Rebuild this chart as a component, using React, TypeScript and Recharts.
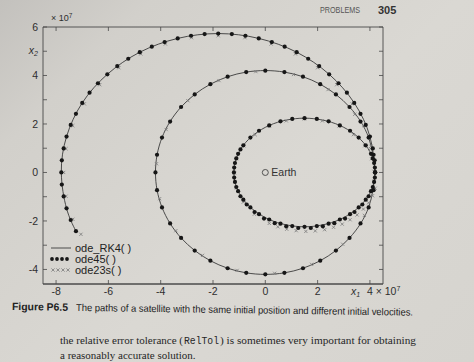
import React from "react";
import { ComposedChart, Line, Scatter, XAxis, YAxis, ReferenceArea } from "recharts";

type Pt = [number, number];

// satellite paths, x1 / x2 in units of 1e7 m
// ode_RK4(): solid lines
const rk4Inner: Pt[] = [
  [4.2, 0], [4.11, 0.58], [3.84, 1.12], [3.41, 1.58], [2.85, 1.94], [2.2, 2.16], [1.5, 2.24],
  [0.8, 2.16], [0.15, 1.94], [-0.41, 1.58], [-0.84, 1.12], [-1.11, 0.58], [-1.2, 0],
  [-1.11, -0.58], [-0.84, -1.12], [-0.41, -1.58], [0.15, -1.94], [0.8, -2.16], [1.5, -2.24],
  [2.2, -2.16], [2.85, -1.94], [3.41, -1.58], [3.84, -1.12], [4.11, -0.58], [4.2, 0],
];
const rk4Middle: Pt[] = [
  [4.2, 0], [3.95, 1.44], [3.22, 2.7], [2.1, 3.64], [0.73, 4.14], [-0.73, 4.14], [-2.1, 3.64],
  [-3.22, 2.7], [-3.95, 1.44], [-4.2, 0], [-3.95, -1.44], [-3.22, -2.7], [-2.1, -3.64],
  [-0.73, -4.14], [0.73, -4.14], [2.1, -3.64], [3.22, -2.7], [3.95, -1.44], [4.2, 0],
];
const rk4Outer: Pt[] = [
  [4.2, 0], [4.0, 1.48], [3.4, 2.87], [2.44, 4.05], [1.2, 4.96], [-0.25, 5.53], [-1.8, 5.73],
  [-3.35, 5.53], [-4.8, 4.96], [-6.04, 4.05], [-7.0, 2.87], [-7.6, 1.48], [-7.8, 0],
  [-7.6, -1.48], [-7.24, -2.42],
];

// ode45(): black dots
const ode45Inner: Pt[] = [
  [4.2, 0], [4.16, 0.39], [4.04, 0.77], [3.84, 1.12], [3.57, 1.44], [3.24, 1.72], [2.85, 1.94],
  [2.42, 2.11], [1.97, 2.21], [1.5, 2.24], [1.03, 2.21], [0.58, 2.11], [0.15, 1.94], [-0.24, 1.72],
  [-0.57, 1.44], [-0.84, 1.12], [-1.04, 0.77], [-1.16, 0.39], [-1.2, 0], [-1.16, -0.39],
  [-1.04, -0.77], [-0.84, -1.12], [-0.57, -1.44], [-0.24, -1.72], [0.15, -1.94], [0.58, -2.11],
  [1.03, -2.21], [1.5, -2.24], [1.97, -2.21], [2.42, -2.11], [2.85, -1.94], [3.24, -1.72],
  [3.57, -1.44], [3.84, -1.12], [4.04, -0.77], [4.16, -0.39],
  [-0.95, 0.95], [-1.11, 0.58], [-1.19, 0.2], [-1.19, -0.21], [-1.11, -0.6],
  [-0.95, -0.98], [-0.71, -1.32], [-0.41, -1.63], [-0.05, -1.9], [0.36, -2.09], [0.8, -2.22],
  [1.26, -2.29], [1.74, -2.29], [2.2, -2.22], [2.64, -2.09], [3.05, -1.9], [3.41, -1.63],
  [3.71, -1.32], [3.95, -0.98], [4.11, -0.6], [4.19, -0.21], [4.19, 0.2], [4.11, 0.58],
];
const ode45Middle: Pt[] = [
  [4.2, 0], [4.14, 0.73], [3.95, 1.44], [3.64, 2.1], [3.22, 2.7], [2.7, 3.22], [2.1, 3.64],
  [1.44, 3.95], [0.73, 4.14], [0, 4.2], [-0.73, 4.14], [-1.44, 3.95], [-2.1, 3.64], [-2.7, 3.22],
  [-3.22, 2.7], [-3.64, 2.1], [-3.95, 1.44], [-4.14, 0.73], [-4.2, 0], [-4.14, -0.73],
  [-3.95, -1.44], [-3.64, -2.1], [-3.22, -2.7], [-2.7, -3.22], [-2.1, -3.64], [-1.44, -3.95],
  [-0.73, -4.14], [0, -4.2], [0.73, -4.14], [1.44, -3.95], [2.1, -3.64], [2.7, -3.22],
  [3.22, -2.7], [3.64, -2.1], [3.95, -1.44], [4.14, -0.73],
];
const ode45Outer: Pt[] = [
  [4.2, 0], [4.18, 0.5], [4.11, 0.99], [4.0, 1.48], [3.84, 1.96], [3.64, 2.42], [3.4, 2.87],
  [3.12, 3.29], [2.8, 3.68], [2.44, 4.05], [2.06, 4.39], [1.64, 4.69], [1.2, 4.96], [0.74, 5.19],
  [0.25, 5.38], [-0.25, 5.53], [-0.76, 5.64], [-1.28, 5.71], [-1.8, 5.73], [-2.32, 5.71],
  [-2.84, 5.64], [-3.35, 5.53], [-3.85, 5.38], [-4.34, 5.19], [-4.8, 4.96], [-5.24, 4.69],
  [-5.66, 4.39], [-6.04, 4.05], [-6.4, 3.68], [-6.72, 3.29], [-7.0, 2.87], [-7.24, 2.42],
  [-7.44, 1.96], [-7.6, 1.48], [-7.71, 0.99], [-7.78, 0.5], [-7.8, 0], [-7.78, -0.5],
  [-7.71, -0.99], [-7.6, -1.48], [-7.44, -1.96], [-7.24, -2.42],
];

// ode23s(): grey crosses
const ode23sInner: Pt[] = [
  [4.15, 0.05], [4.06, 0.57], [3.8, 1.1], [3.37, 1.56], [2.82, 1.92], [2.18, 2.13], [1.49, 2.21],
  [0.8, 2.13], [0.16, 1.91], [-0.39, 1.56], [-0.82, 1.1], [-1.09, 0.57], [-1.18, -0.02],
  [-1.1, -0.64], [-0.84, -1.22], [-0.42, -1.72], [0.15, -2.1], [0.48, -2.24], [0.82, -2.34],
  [1.18, -2.4], [1.55, -2.43], [1.91, -2.41], [2.27, -2.36], [2.61, -2.26], [2.94, -2.13],
  [3.24, -1.95], [3.51, -1.75], [3.75, -1.51], [3.95, -1.25], [4.1, -0.96], [4.2, -0.65],
];
const ode23sMiddle: Pt[] = [
  [4.04, 1.08], [3.42, 2.4], [2.4, 3.42], [1.08, 4.04], [-0.36, 4.16], [-1.77, 3.79],
  [-2.96, 2.96], [-3.79, 1.77], [-4.16, 0.36], [-4.04, -1.08], [-3.42, -2.4], [-2.4, -3.42],
  [-1.08, -4.04], [0.36, -4.16], [1.77, -3.79], [2.96, -2.96], [3.79, -1.77], [4.16, -0.36],
];
const ode23sOuter: Pt[] = [
  [4.02, 0.98], [3.76, 1.93], [3.32, 2.83], [2.73, 3.62], [2.0, 4.32], [1.15, 4.89], [0.22, 5.3],
  [-0.78, 5.56], [-1.8, 5.64], [-2.82, 5.56], [-3.82, 5.3], [-4.76, 4.89], [-5.6, 4.32],
  [-6.33, 3.62], [-6.92, 2.83], [-7.36, 1.93], [-7.62, 0.98], [-7.71, 0], [-7.62, -0.98],
  [-7.36, -1.93], [-7.05, -2.55],
];

const earth: Pt[] = [[0, 0]];

const xTicks = [-8, -6, -4, -2, 0, 2, 4];
const yTicks = [-4, -3, -2, -1, 0, 1, 2, 3, 4, 5, 6];
const xDomain: Pt = [-8.5, 4.5];
const yDomain: Pt = [-4.6, 6];
const legendItems = ["ode_RK4( )", "ode45( )", "ode23s( )"];

const W = 474;
const H = 362;
const PL = 43;
const PR = 383;
const PT = 27;
const PB = 284;
const AX = "#474747";
const INK = "#2e2e2e";
const FONT = '"Liberation Sans", Arial, Helvetica, sans-serif';
const SERIF = '"Liberation Serif", "Times New Roman", serif';

const pts = (a: Pt[]) => a.map(([x, y]) => ({ x, y }));

function Dot(props: any) {
  const { cx, cy } = props;
  if (cx == null || cy == null) return null;
  return <circle cx={cx} cy={cy} r={2.1} fill="#161616" />;
}

function Cross(props: any) {
  const { cx, cy } = props;
  if (cx == null || cy == null) return null;
  const s = 1.6;
  return (
    <g stroke="#7a7a7a" strokeWidth={0.8}>
      <line x1={cx - s} y1={cy - s} x2={cx + s} y2={cy + s} />
      <line x1={cx - s} y1={cy + s} x2={cx + s} y2={cy - s} />
    </g>
  );
}

function EarthMark(props: any) {
  const { cx, cy } = props;
  if (cx == null || cy == null) return null;
  return (
    <g>
      <circle cx={cx} cy={cy} r={3} fill="none" stroke="#444" strokeWidth={0.9} />
      <text x={cx + 6} y={cy + 3.8} fontSize={10.5} fill="#333" fontFamily={FONT}>Earth</text>
    </g>
  );
}

function XTick({ x, payload }: any) {
  const v = payload.value;
  return (
    <g fontFamily={FONT} fontSize={10.5} fill={INK}>
      <line x1={x} y1={PB} x2={x} y2={PB - 4} stroke={AX} strokeWidth={0.8} />
      <line x1={x} y1={PT} x2={x} y2={PT + 4} stroke={AX} strokeWidth={0.8} />
      {v === 4 ? (
        <>
          <text x={x - 19} y={PB + 11} fontStyle="italic">x<tspan fontSize={7} dy={2}>1</tspan></text>
          <text x={x - 3} y={PB + 11}>4 × 10<tspan fontSize={7} dy={-4}>7</tspan></text>
        </>
      ) : (
        <text x={x} y={PB + 11} textAnchor="middle">{v}</text>
      )}
    </g>
  );
}

function YTick({ y, payload }: any) {
  const v = payload.value;
  return (
    <g fontFamily={FONT} fontSize={10.5} fill={INK}>
      <line x1={PL} y1={y} x2={PL + 4} y2={y} stroke={AX} strokeWidth={0.8} />
      <line x1={PR} y1={y} x2={PR - 4} y2={y} stroke={AX} strokeWidth={0.8} />
      {v % 2 === 0 && <text x={PL - 5} y={y + 3.7} textAnchor="end">{v}</text>}
      {v === 5 && (
        <text x={PL - 5} y={y + 3} textAnchor="end" fontStyle="italic">x<tspan fontSize={7} dy={2}>2</tspan></text>
      )}
      {v === 6 && (
        <text x={PL + 8} y={y - 6} fontSize={9}>× 10<tspan fontSize={6.5} dy={-3.5}>7</tspan></text>
      )}
    </g>
  );
}

function PageText() {
  return (
    <svg width={W} height={H} style={{ position: "absolute", left: 0, top: 0 }}>
      <text x={320} y={12.5} fontFamily={FONT} fontSize={8.5} fill="#555" textLength={40} lengthAdjust="spacingAndGlyphs">PROBLEMS</text>
      <text x={378} y={13.5} fontFamily={FONT} fontSize={11} fontWeight="bold" fill="#333">305</text>

      <g fontFamily={FONT} fontSize={11} fill="#222">
        <line x1={51} y1={248} x2={71} y2={248} stroke="#3c3c3c" strokeWidth={0.9} />
        <text x={75} y={251.8}>{legendItems[0]}</text>
        {[52, 57, 62, 67].map((cx) => <circle key={cx} cx={cx} cy={259} r={1.9} fill="#161616" />)}
        <text x={75} y={262.8}>{legendItems[1]}</text>
        {[53, 58, 63, 68].map((cx) => (
          <g key={cx} stroke="#7a7a7a" strokeWidth={0.8}>
            <line x1={cx - 1.6} y1={268.4} x2={cx + 1.6} y2={271.6} />
            <line x1={cx - 1.6} y1={271.6} x2={cx + 1.6} y2={268.4} />
          </g>
        ))}
        <text x={75} y={273.8}>{legendItems[2]}</text>
      </g>

      <g transform="rotate(0.8 12 310)" fontFamily={FONT} fill="#222">
        <text x={12} y={310} fontSize={10.5} fontWeight="bold" textLength={56} lengthAdjust="spacingAndGlyphs">Figure P6.5</text>
        <text x={76} y={310} fontSize={10} textLength={337} lengthAdjust="spacingAndGlyphs">
          The paths of a satellite with the same initial position and different initial velocities.
        </text>
      </g>

      <g fontFamily={SERIF} fontSize={11} fill="#262626">
        <text x={60} y={344} textLength={123} lengthAdjust="spacingAndGlyphs">the relative error tolerance (</text>
        <text x={184} y={344} fontFamily='"Liberation Mono", monospace' fontSize={10} textLength={35} lengthAdjust="spacingAndGlyphs">RelTol</text>
        <text x={220} y={344} textLength={196} lengthAdjust="spacingAndGlyphs">) is sometimes very important for obtaining</text>
        <text x={60} y={358.5}>a reasonably accurate solution.</text>
      </g>
    </svg>
  );
}

export default function App() {
  const lineProps = {
    dataKey: "y",
    type: "natural" as const,
    dot: false,
    activeDot: false,
    stroke: "#3a3a3a",
    strokeWidth: 0.9,
    isAnimationActive: false,
  };
  return (
    <div
      style={{
        position: "fixed", left: 0, top: 0, width: W, height: H, overflow: "hidden",
        background: "linear-gradient(135deg, #c3c1bd 0%, #d2d0cb 18%, #dad8d3 55%, #d6d4cf 100%)",
      }}
    >
      <ComposedChart width={W} height={H} margin={{ top: PT, right: W - PR, bottom: H - PB - 20, left: PL - 30 }}>
        <XAxis
          type="number" dataKey="x" domain={xDomain} ticks={xTicks} interval={0} allowDataOverflow
          height={20} tickSize={0} tickMargin={0} axisLine={{ stroke: AX }} tick={<XTick />}
        />
        <YAxis
          type="number" dataKey="y" domain={yDomain} ticks={yTicks} interval={0} allowDataOverflow
          width={30} tickSize={0} tickMargin={0} axisLine={false} tick={<YTick />}
        />
        <ReferenceArea x1={xDomain[0]} x2={xDomain[1]} y1={yDomain[0]} y2={yDomain[1]} fill="none" stroke={AX} strokeWidth={0.9} />
        <Line data={pts(rk4Outer)} {...lineProps} />
        <Line data={pts(rk4Middle)} {...lineProps} />
        <Line data={pts(rk4Inner)} {...lineProps} />
        <Scatter data={pts(ode23sOuter)} shape={Cross} isAnimationActive={false} />
        <Scatter data={pts(ode23sMiddle)} shape={Cross} isAnimationActive={false} />
        <Scatter data={pts(ode23sInner)} shape={Cross} isAnimationActive={false} />
        <Scatter data={pts(ode45Outer)} shape={Dot} isAnimationActive={false} />
        <Scatter data={pts(ode45Middle)} shape={Dot} isAnimationActive={false} />
        <Scatter data={pts(ode45Inner)} shape={Dot} isAnimationActive={false} />
        <Scatter data={pts(earth)} shape={EarthMark} isAnimationActive={false} />
      </ComposedChart>
      <PageText />
    </div>
  );
}
